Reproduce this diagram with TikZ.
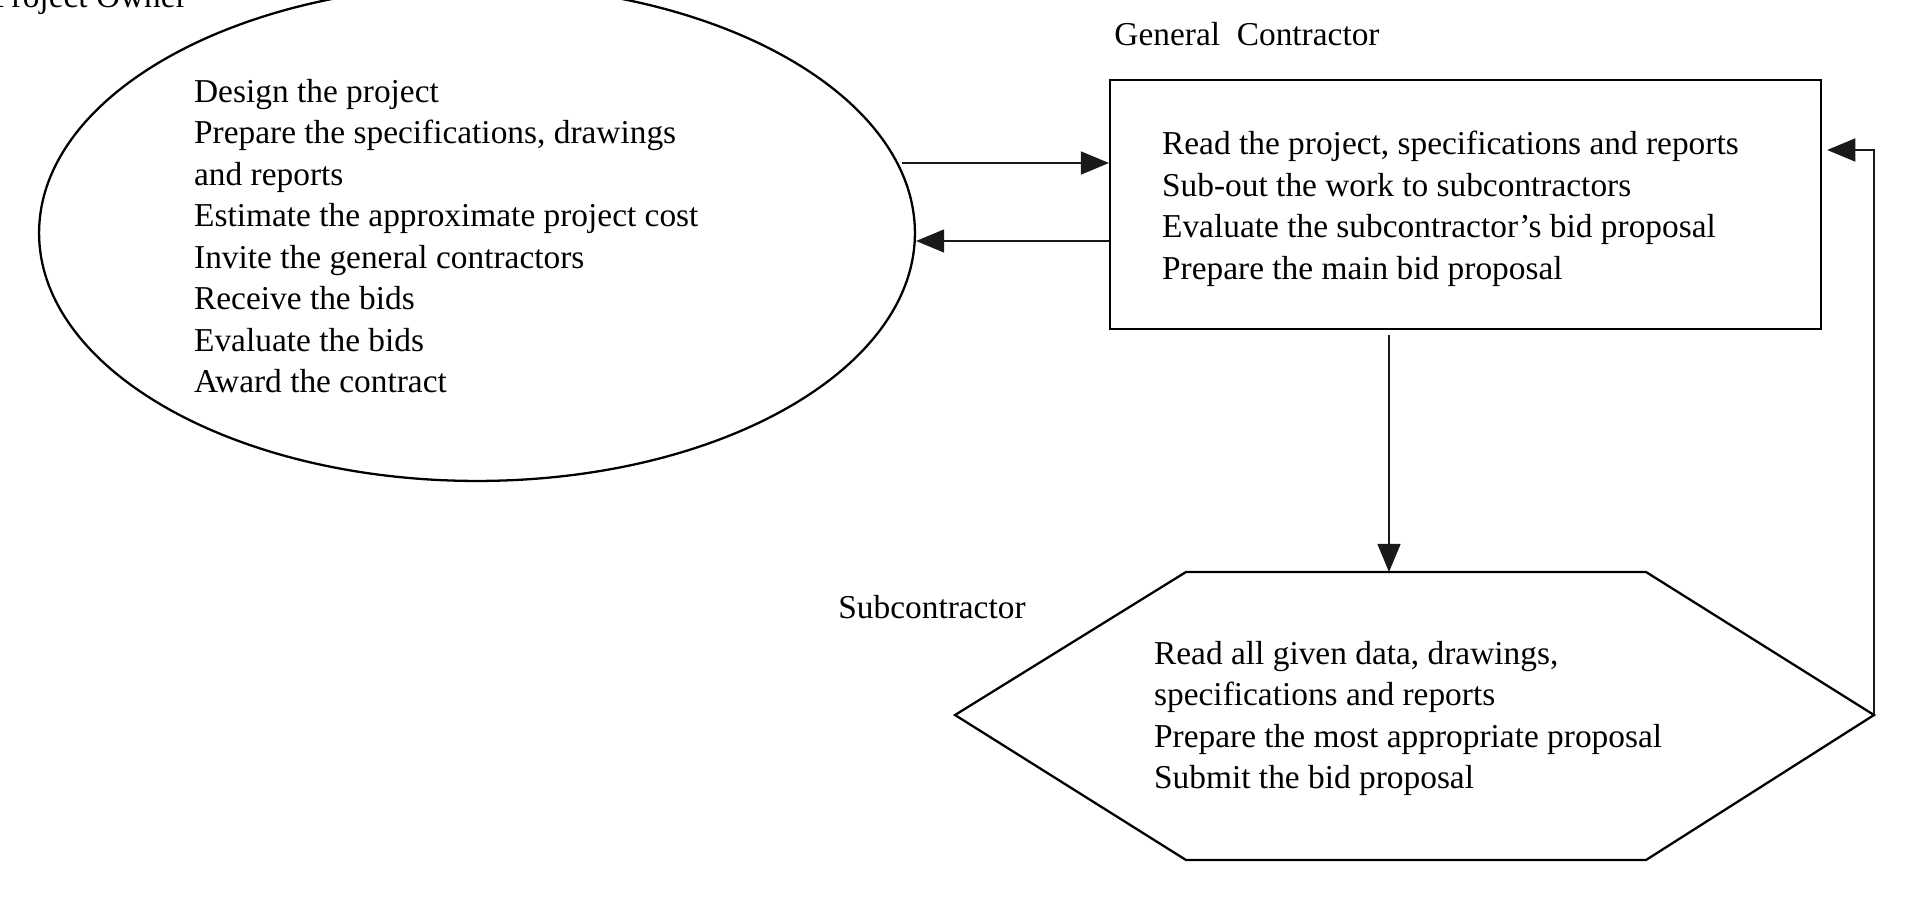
\documentclass[tikz,border=0pt]{standalone}
\usepackage{fontspec}
\setmainfont{Liberation Serif}
\usetikzlibrary{arrows.meta,calc,positioning,shapes.geometric}

\begin{document}
\begin{tikzpicture}[x=0.02cm, y=-0.02cm,
                    line width=1.3pt,
                    txt/.style  ={align=left, anchor=north west, inner sep=0, font=\fontsize{19}{23.6}\selectfont},
                    title/.style={inner sep=0, font=\fontsize{19}{23.6}\selectfont},
                    flow/.style ={-{Triangle[length=16pt,width=13pt]}, draw=black!90}]

      \useasboundingbox (0,0) rectangle (1917,898);
      \node[ellipse, draw, minimum width=17.52cm, minimum height=9.92cm, inner sep=0] at(477, 233) (owner) {};
      \node[txt] at(193, 78) (ownertxt) {Design the project\\Prepare the specifications, drawings\\and reports\\Estimate the approximate project cost\\Invite the general contractors\\Receive the bids\\Evaluate the bids\\Award the contract};
      \node[title] at(90, 0) (ownerlbl) {Project Owner};
      \node[rectangle, draw, minimum width=14.22cm, minimum height=4.98cm, anchor=north west] at(1109, 79) (gc) {};
      \node[txt] at(1161, 130) (gctxt) {Read the project, specifications and reports\\Sub-out the work to subcontractors\\Evaluate the subcontractor's bid proposal\\Prepare the main bid proposal};
      \node[title] at(1247, 34) (gclbl) {General\ \ Contractor};
      % subcontractor hexagon
      \coordinate (hl) at(955, 715);
      \coordinate (htl) at(1186, 572);
      \coordinate (htr) at(1646, 572);
      \coordinate (hr) at(1874, 715);
      \coordinate (hbr) at(1646, 860);
      \coordinate (hbl) at(1186, 860);
      \draw (hl) -- (htl) -- (htr) -- (hr) -- (hbr) -- (hbl) -- cycle;
      \node[txt] at(1153, 640) (subtxt) {Read all given data, drawings,\\specifications and reports\\Prepare the most appropriate proposal\\Submit the bid proposal};
      \node[title] at(932, 607) (sublbl) {Subcontractor};
      \coordinate (gctop) at(1874, 150);
      \coordinate (gcin) at($(gc.north east)+(5, 71)$);
      \coordinate (subtop) at(1389, 572);
      \path[flow] (owner.east |- 0, 163) ++(-14, 0) -- (gc.west |- 0, 163);
      \path[flow] (gc.west |- 0, 241) -- (owner.east |- 0, 241);
      \path[flow] (gc.south -| subtop) ++(0, 5) -- (subtop);
      \path[flow] (hr) -- (gctop) -- (gcin);
    \end{tikzpicture}
\end{document}
